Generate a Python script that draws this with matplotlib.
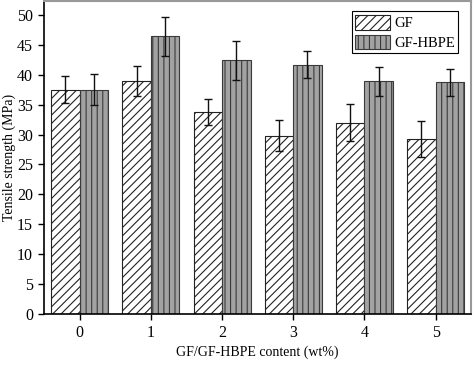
import numpy as np
import matplotlib
matplotlib.use('Agg')
import matplotlib.pyplot as plt

plt.rcParams['font.family'] = ['Liberation Serif', 'DejaVu Serif']
plt.rcParams['hatch.linewidth'] = 0.8

# --- Dados ---
conteudo = ['0', '1', '2', '3', '4', '5']
gf_media = [37.5, 38.9, 33.8, 29.8, 32.0, 29.2]
gf_erro = [2.2, 2.5, 2.2, 2.6, 3.1, 3.0]
hbpe_media = [37.5, 46.4, 42.4, 41.7, 38.9, 38.7]
hbpe_erro = [2.6, 3.2, 3.3, 2.3, 2.4, 2.3]

x = np.arange(len(conteudo))
largura = 0.4

fig = plt.figure(figsize=(4.74, 3.66), dpi=100)
ax = fig.add_axes([0.093, 0.142, 0.901, 0.855])

ax.bar(x - largura / 2, gf_media, largura, color='white', edgecolor='#222222',
       hatch='////', linewidth=0.8, label='GF', zorder=2)
ax.bar(x + largura / 2, hbpe_media, largura, color='#a2a2a2', edgecolor='#3a3a3a',
       hatch='|||', linewidth=0.8, label='GF-HBPE', zorder=2)

ax.errorbar(x - largura / 2, gf_media, yerr=gf_erro, fmt='none', ecolor='#111111',
            elinewidth=1.0, capsize=3, capthick=1.0, zorder=3)
ax.errorbar(x + largura / 2, hbpe_media, yerr=hbpe_erro, fmt='none', ecolor='#111111',
            elinewidth=1.0, capsize=3, capthick=1.0, zorder=3)

ax.set_xlim(-0.5, 5.5)
ax.set_ylim(0, 52.3)
ax.set_xticks(x)
ax.set_xticklabels(conteudo)
ax.set_yticks(np.arange(0, 51, 5))
ax.tick_params(axis='both', direction='out', length=4.5, width=1.0, labelsize=11.5)

for lado in ['left', 'bottom']:
    ax.spines[lado].set_linewidth(1.2)
for lado in ['top', 'right']:
    ax.spines[lado].set_color('#999999')
    ax.spines[lado].set_linewidth(1.5)

ax.set_xlabel('GF/GF-HBPE content (wt%)', fontsize=10, labelpad=3)
ax.set_ylabel('Tensile strength (MPa)', fontsize=10, labelpad=1)

leg = ax.legend(loc='upper right', bbox_to_anchor=(0.970, 0.967), fontsize=10.5,
                fancybox=False, edgecolor='black', framealpha=1,
                handlelength=2.4, handleheight=1.15, borderpad=0.25,
                labelspacing=0.3, handletextpad=0.25, borderaxespad=0)
leg.get_frame().set_linewidth(0.8)

fig.savefig('out.png', dpi=100)
